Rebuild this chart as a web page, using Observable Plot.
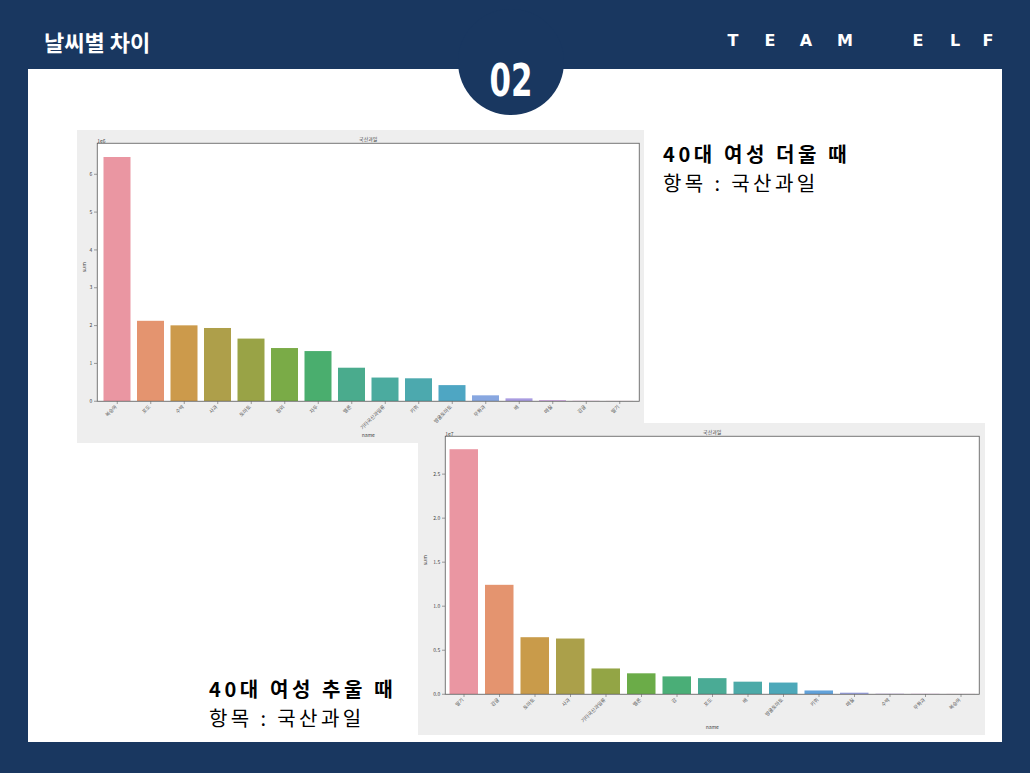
<!DOCTYPE html>
<html><head><meta charset="utf-8">
<script src="https://cdn.jsdelivr.net/npm/d3@7"></script>
<script src="https://cdn.jsdelivr.net/npm/@observablehq/plot@0.6"></script>
<style>
html,body{margin:0;padding:0;}
body{width:1030px;height:773px;background:#193760;position:relative;overflow:hidden;font-family:"Noto Sans CJK KR","Noto Sans",sans-serif;}
.abs{position:absolute;}
#panel{left:28px;top:69px;width:974px;height:673px;background:#fff;}
#circle{left:458px;top:9px;width:106px;height:106px;border-radius:50%;background:#193760;}
#num{left:458px;top:57px;width:106px;text-align:center;color:#fff;font-family:"Liberation Sans Narrow","DejaVu Sans Condensed",sans-serif;font-weight:bold;font-size:44px;line-height:48px;transform:scaleX(0.78);}
#title{left:44px;top:26px;color:#fff;font-weight:bold;font-size:22px;line-height:30px;}
.tl{top:30px;width:20px;margin-left:-10px;text-align:center;color:#fff;font-family:"DejaVu Sans","Liberation Sans",sans-serif;font-weight:bold;font-size:16px;line-height:22px;}
.box{background:#eeeeee;}
.box svg{position:absolute;left:0;top:0;}
.plotbg{position:absolute;background:#ffffff;}
.nb{color:#000;font-size:20px;line-height:28px;font-weight:bold;white-space:nowrap;letter-spacing:3.6px;}
.nr{color:#000;font-size:20px;line-height:28px;white-space:nowrap;letter-spacing:3.4px;}
</style></head>
<body>
<div id="panel" class="abs"></div>
<div id="circle" class="abs"></div>
<div id="num" class="abs">02</div>
<div id="title" class="abs">날씨별 차이</div>
<div id="team"></div>
<div id="c1" class="abs box" style="left:77px;top:130px;width:567px;height:313px;"><div class="plotbg" style="left:20px;top:13px;width:542px;height:258px;"></div></div>
<div id="c2" class="abs box" style="left:418px;top:423px;width:567px;height:312px;"><div class="plotbg" style="left:27px;top:13px;width:534px;height:258px;"></div></div>
<div class="abs nb" style="left:663px;top:140px;">40대 여성 더울 때</div>
<div class="abs nr" style="left:663px;top:169px;">항목 : 국산과일</div>
<div class="abs nb" style="left:209px;top:675px;">40대 여성 추울 때</div>
<div class="abs nr" style="left:209px;top:704px;">항목 : 국산과일</div>
<script>
// ---- data ----
const hotNames = ["복숭아","포도","수박","사과","토마토","참외","자두","멜론","기타국산과일류","키위","방울토마토","무화과","배","매실","감귤","딸기"];
const hotValues = [6450000,2120000,2000000,1930000,1650000,1400000,1320000,880000,620000,600000,420000,150000,70000,20000,5000,2000];
const coldNames = ["딸기","감귤","토마토","사과","기타국산과일류","멜론","감","포도","배","방울토마토","키위","매실","수박","무화과","복숭아"];
const coldValues = [27800000,12400000,6450000,6300000,2900000,2350000,2000000,1800000,1400000,1300000,400000,150000,30000,20000,10000];
const hotTicks = [0,1,2,3,4,5,6];
const coldTicks = [0,0.5,1.0,1.5,2.0,2.5];
const chartTitle = "국산과일";
const teamLetters = ["T","E","A","M","E","L","F"];

const teamX = [733,770,806,845,918,955,988];
const team = document.getElementById("team");
teamLetters.forEach((c,i)=>{
  const s = document.createElement("div");
  s.className = "abs tl"; s.style.left = teamX[i]+"px"; s.textContent = c;
  team.append(s);
});

const hotColors = ["#ea96a2","#e4946f","#cc9a4b","#ae9f4a","#99a346","#7aab47","#4aae6e","#4aab8d","#4bab9f","#4ca9ae","#4ea6c3","#88a7e0","#a99ce1","#c897dc","#e293d0","#e794b5"];
const coldColors = ["#ea96a2","#e4946f","#c99b4a","#aba04a","#93a545","#6bac48","#4aae77","#4aab95","#4caaa8","#4da8b9","#62a2da","#9aa1e1","#bb9ade","#db94d6","#e795c2"];

// drawn at 2x and scaled down by the container (max-width:100%)
const K = 2;
function makeChart(names, values, colors, ticks, unit, expo, opts){
  const data = names.map((n,i)=>({name:n, sum:values[i]}));
  const svg = Plot.plot({
    width:567*K, height:opts.height*K,
    marginLeft:opts.ml*K, marginRight:opts.mr*K, marginTop:13*K, marginBottom:opts.mb*K,
    style:{background:"transparent", fontFamily:"'Noto Sans CJK KR',sans-serif", fontSize:(5*K)+"px", color:"#444"},
    x:{domain:names, paddingInner:0.2, paddingOuter:0.1, label:null, tickFormat:()=>"", tickSize:3*K},
    y:{domain:[0, opts.ymax], label:null, ticks:ticks.map(t=>t*unit), tickFormat:d=>opts.fmt(d/unit), tickSize:3*K, tickPadding:2*K},
    color:{domain:names, range:colors},
    marks:[
      Plot.frame({fill:"#ffffff", stroke:"none"}),
      Plot.barY(data,{x:"name", y:"sum", fill:"name"}),
      Plot.frame({stroke:"#555", strokeWidth:0.8*K}),
      Plot.text(data,{x:"name", text:"name", frameAnchor:"bottom", dy:6*K, rotate:-45, textAnchor:"end", fontSize:5*K, fill:"#555"}),
      Plot.text(["name"],{text:d=>d, frameAnchor:"bottom", dy:(opts.mb-6)*K, fontSize:5*K, fill:"#444"}),
      Plot.text(["sum"],{text:d=>d, frameAnchor:"left", dx:-(opts.ml-7)*K, rotate:-90, fontSize:5*K, fill:"#444"}),
      Plot.text([expo],{text:d=>d, frameAnchor:"top-left", dy:-4*K, textAnchor:"start", fontSize:5*K, fill:"#444"}),
      Plot.text([chartTitle],{text:d=>d, frameAnchor:"top", dy:-6*K, fontSize:5*K, fill:"#444"})
    ]
  });
  svg.style.width = "100%";
  svg.style.height = "auto";
  return svg;
}

document.getElementById("c1").append(makeChart(hotNames, hotValues, hotColors, hotTicks, 1e6, "1e6",
  {height:313, ml:20, mr:5, mb:42, ymax:6.82e6, fmt:d=>String(Math.round(d))}));
document.getElementById("c2").append(makeChart(coldNames, coldValues, coldColors, coldTicks, 1e7, "1e7",
  {height:312, ml:27, mr:6, mb:41, ymax:2.93e7, fmt:d=>d.toFixed(1)}));
</script>
</body></html>
